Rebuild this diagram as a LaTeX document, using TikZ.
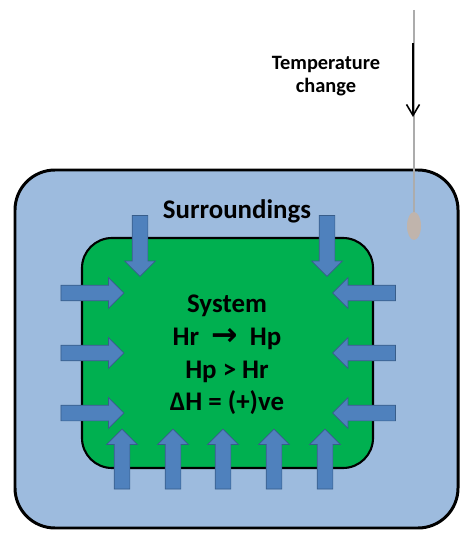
\documentclass[tikz,border=0pt]{standalone}
\usepackage{fontspec}
\setmainfont{Carlito}
\newfontfamily\arrowfont{DejaVu Sans}
\usetikzlibrary{shapes.arrows,arrows.meta}
\definecolor{surrblue}{RGB}{157,187,222}
\definecolor{sysgreen}{RGB}{0,176,80}
\definecolor{heatblue}{RGB}{79,129,189}
\definecolor{heatedge}{RGB}{56,93,138}
\definecolor{thermgray}{RGB}{172,172,172}
\definecolor{bulbgray}{RGB}{192,180,172}
\tikzset{
  heat/.style={single arrow,draw=heatedge,fill=heatblue,thin,inner sep=1.5mm,
    minimum width=6mm,single arrow head extend=1.5mm,single arrow tip angle=90},
  syslabel/.style={font=\fontsize{15.3}{18}\selectfont\bfseries,anchor=base,inner sep=0pt}
}
\begin{document}
\begin{tikzpicture}[x=0.02cm,y=-0.02cm]
\useasboundingbox (0,0) rectangle (474,546);
%surroundings
\draw[line width=1.7pt,fill=surrblue,rounded corners=8mm](15,170)rectangle(458,528);
%thermometer
\draw[thermgray,line width=1.2pt](414,10)--(414,214);
\fill[bulbgray](414,226)ellipse(1.4mm and 2.8mm);
\coordinate (tc-start) at (413,43);
\coordinate (tc-end) at (413,117);
\draw[line width=0.9pt,-{Straight Barb[length=2.2mm,width=2.6mm]}](tc-start)--(tc-end);
\node[font=\fontsize{11.6}{13.5}\selectfont\bfseries,align=center] (tclabel) at (326,76) {Temperature\\change};
%system
\draw[line width=1.2pt,fill=sysgreen,rounded corners=6mm](82,238)rectangle(373,468);
%heat flowing in
\foreach \x [count=\i] in {140,327}
  \node[heat,minimum height=12.2mm,rotate=-90] (top\i) at (\x,242) {};
\foreach \y [count=\i] in {293,353,413}{
  \node[heat,minimum height=12.6mm] (left\i) at (88.5,\y) {};
  \node[heat,minimum height=12.6mm,rotate=180] (right\i) at (368,\y) {};
}
\foreach \x [count=\i] in {122,173,223,274,325}
  \node[heat,minimum height=12mm,rotate=90] (bottom\i) at (\x,463) {};
%labels
\node[syslabel] (surr) at (237,219) {Surroundings};
\node[syslabel] (sys) at (227,313) {System};
\node[syslabel] (hrhp) at (227,345) {Hr\hspace{0.45em}{\arrowfont\bfseries\fontsize{18}{18}\selectfont →}\hspace{0.45em}Hp};
\node[syslabel] (hphr) at (227,378) {Hp > Hr};
\node[syslabel] (dh) at (227,410) {ΔH = (+)ve};
\end{tikzpicture}
\end{document}
